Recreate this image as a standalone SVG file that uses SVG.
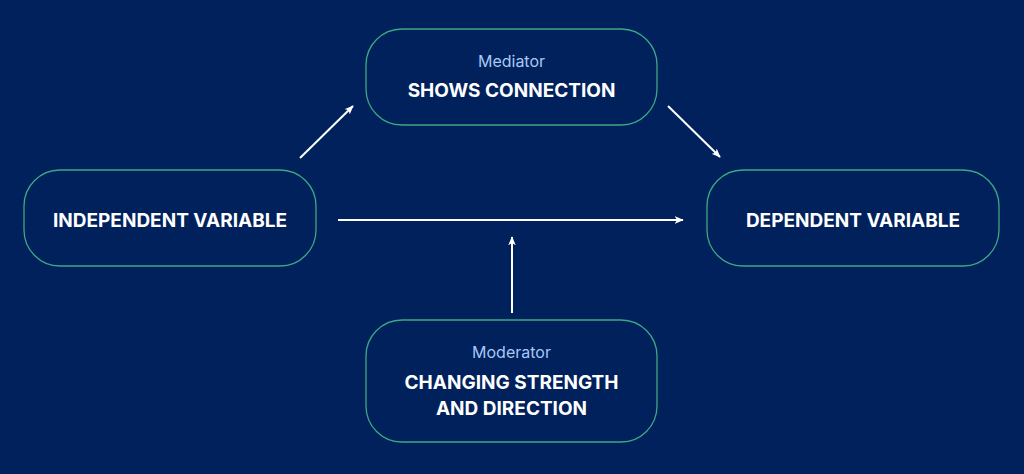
<svg xmlns="http://www.w3.org/2000/svg" width="1024" height="474" viewBox="0 0 1024 474">
<style>
.box{fill:#00215b;stroke:#3ca884;stroke-width:1.3}
.t{font-family:Inter,"Liberation Sans",sans-serif;font-weight:700;font-size:19px;fill:#fff;text-anchor:middle}
.s{font-family:Inter,"Liberation Sans",sans-serif;font-size:16px;fill:#a8c8f5;text-anchor:middle}
.c{stroke:#fff;stroke-width:2;fill:none;marker-end:url(#a)}
</style>
<defs><marker id="a" viewBox="0 0 12 10" refX="11" refY="5" markerWidth="9" markerHeight="7.5" markerUnits="userSpaceOnUse" orient="auto"><path d="M0,0 L12,5 L0,10 L3,5 Z" fill="#fff"/></marker></defs>
<rect width="1024" height="474" fill="#00215b"/>
<g id="mediator"><rect class="box" x="366" y="29" width="291" height="96" rx="36"/><text class="s" x="511.5" y="67">Mediator</text><text class="t" x="511.5" y="97">SHOWS CONNECTION</text></g>
<g id="independent"><rect class="box" x="24" y="170" width="292" height="96" rx="36"/><text class="t" x="170" y="227">INDEPENDENT VARIABLE</text></g>
<g id="dependent"><rect class="box" x="707" y="170" width="292" height="96" rx="36"/><text class="t" x="853" y="227">DEPENDENT VARIABLE</text></g>
<g id="moderator"><rect class="box" x="366" y="320" width="291" height="122" rx="36"/><text class="s" x="511.5" y="358">Moderator</text><text class="t" x="511.5" y="389">CHANGING STRENGTH</text><text class="t" x="511.5" y="415">AND DIRECTION</text></g>
<g id="connectors">
<path class="c" d="M300,158 L353,106"/>
<path class="c" d="M668,106 L720,157"/>
<path class="c" d="M338,220 L683,220"/>
<path class="c" d="M512,313 L512,237"/>
</g>
</svg>
